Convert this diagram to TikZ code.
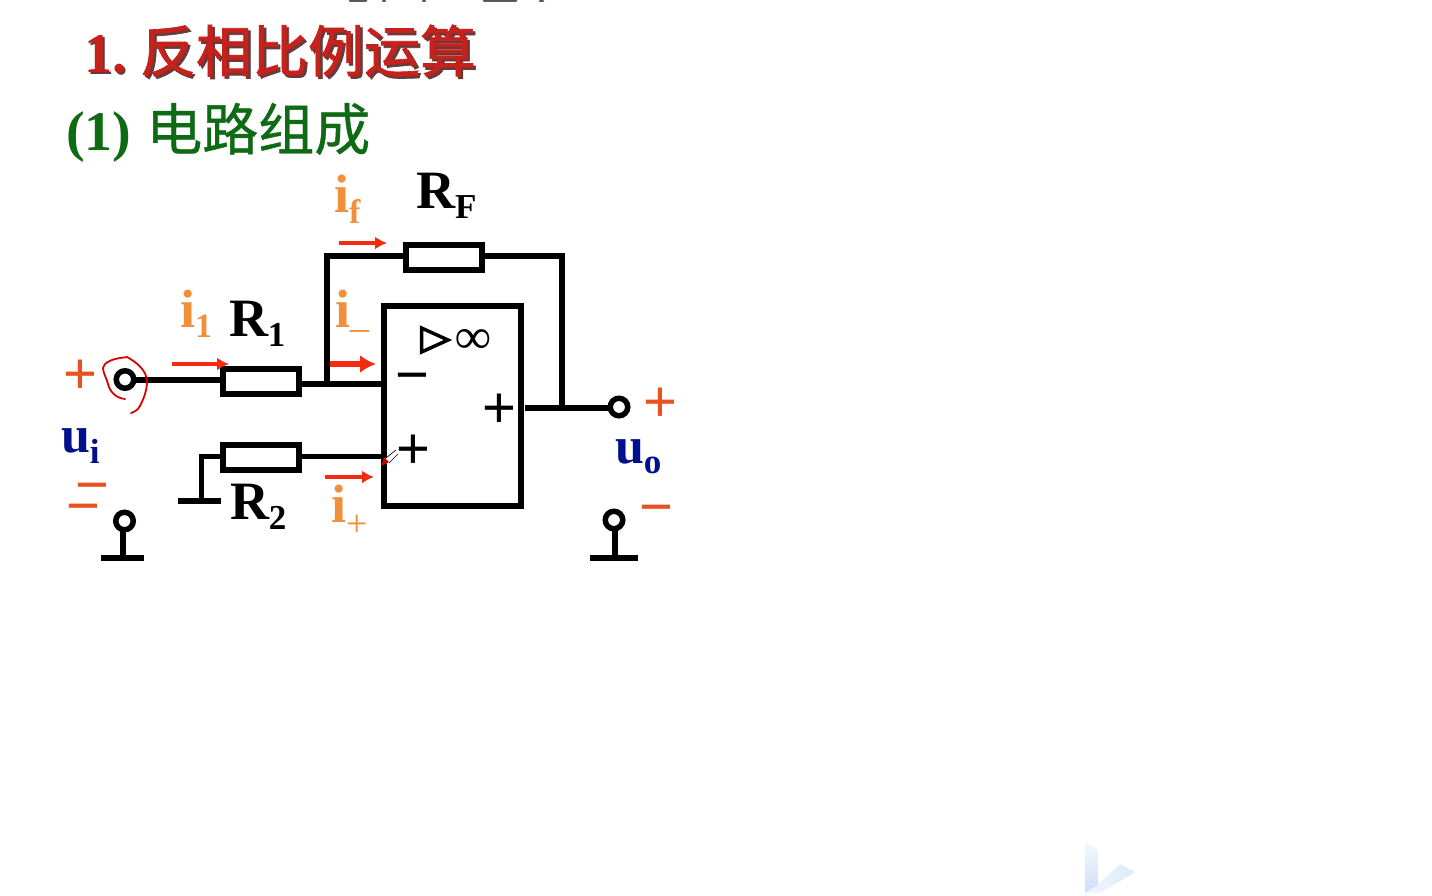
\documentclass[tikz,border=0pt]{standalone}
\usepackage{fontspec}
\setmainfont{Liberation Serif}
\newfontfamily\cjka[FakeBold=1.2]{Noto Sans CJK SC}
\newfontfamily\cjkb[FakeBold=0.7]{Noto Sans CJK SC}
\newfontfamily\sgn{Liberation Sans}
\usetikzlibrary{arrows.meta}
\definecolor{titlered}{HTML}{C8201A}
\definecolor{shadowc}{HTML}{6A3A3A}
\definecolor{headgreen}{HTML}{0F6A14}
\definecolor{curorange}{HTML}{F0903A}
\definecolor{signorange}{HTML}{E8521E}
\definecolor{arrowred}{HTML}{F52A10}
\definecolor{navyu}{HTML}{00108C}
\definecolor{wmblue}{HTML}{BBD4F5}
\newcommand{\fz}[1]{\fontsize{#1}{#1}\selectfont}
\newcommand{\shadowed}[1]{\rlap{\kern2.5pt\raisebox{-2.5pt}{\color{shadowc}#1}}{\color{titlered}#1}}
\newcommand{\lab}[2]{\bfseries\fz{54}#1\raisebox{-10pt}{\fz{35}#2}}
\newcommand{\cur}[3]{\bfseries\fz{54}#1\raisebox{#3}{\fz{34}#2}}
\tikzset{
 x=1pt,y=-1pt,
 wire/.style={draw=black,line width=6pt,line cap=butt,line join=miter},
 thinw/.style={draw=black,line width=5pt,line join=miter},
 res/.style={draw=black,line width=6pt,fill=white,minimum width=76pt,minimum height=25pt,inner sep=0pt,outer sep=0pt},
 opamp/.style={draw=black,line width=6pt,fill=white,minimum width=137pt,minimum height=200pt,inner sep=0pt,outer sep=0pt},
 term/.style={circle,draw=black,line width=5.5pt,fill=white,minimum size=17.5pt,inner sep=0pt,outer sep=0pt},
 curarrow/.style={draw=arrowred,line width=4pt,-{Latex[length=12pt,width=13pt]}},
 curarrowbig/.style={draw=arrowred,line width=5.5pt,-{Latex[length=16pt,width=18pt]}},
 tx/.style={inner sep=0pt,outer sep=0pt,anchor=base west},
 sign/.style={inner sep=0pt,outer sep=0pt,anchor=center,font=\sgn\fz{58}},
}
\begin{document}
\begin{tikzpicture}
\useasboundingbox (0,0) rectangle (1432,895);
\fill[white] (0,0) rectangle (1432,895);
% clipped remains of a line above the picture
\draw[draw=black!65,line width=2.5pt,line cap=round] (350,0.5) -- (366,0.5) (383,1) -- (385,1) (423,1) -- (425,1) (484,0.5) -- (516,0.5) (540,1) -- (543,1);
% headings
\node[tx,font=\bfseries\fz{56}] (title) at (84,72) {\shadowed{1.}\hspace{14pt}{\cjka\mdseries\shadowed{反相比例运算}}};
\node[tx,font=\bfseries\fz{56},text=headgreen] (head) at (66,150) {(1)\hspace{15pt}{\cjkb\mdseries 电路组成}};
% op-amp and resistors
\node[opamp] (op) at (452.5,406) {};
\node[res] (r1) at (261,381.5) {};
\node[res] (r2) at (261,457.5) {};
\node[res] (rf) at (444,257) {};
% named junctions
\coordinate (j1) at (327,384);
\coordinate (j1t) at (327,256);
\coordinate (j2) at (562,408);
\coordinate (j2t) at (562,256);
\coordinate (opo) at (525,408);
\coordinate (r2c) at (201,456);
\coordinate (r2g) at (201,501);
\coordinate (g1) at (178,501);
\coordinate (g2) at (221,501);
\coordinate (gl) at (123,558);
\coordinate (gla) at (101,558);
\coordinate (glb) at (144,558);
\coordinate (gr) at (615,558);
\coordinate (gra) at (590,558);
\coordinate (grb) at (638,558);
\coordinate (opm) at (382,384);
\coordinate (opp) at (382,456);
% wires
\draw[wire] (125,380) coordinate (tinc) -- (tinc -| r1.west);
\draw[wire] (r1.east |- j1) -- (opm);
\draw[wire] (j1) -- (j1t) -- (rf.west |- j1t);
\draw[wire] (rf.east |- j2t) -- (j2t) -- (j2);
\draw[wire] (opo) -- (j2) -- (619,408) coordinate (toutc);
\draw[thinw] (r2.east |- opp) -- (opp);
\draw[thinw] (r2.west |- r2c) -- (r2c) -- (r2g);
\draw[wire] (g1) -- (g2);
\draw[wire] (123,521) coordinate (ginc) -- (gl);
\draw[wire] (gla) -- (glb);
\draw[wire] (615,521) coordinate (goutc) -- (gr);
\draw[wire] (gra) -- (grb);
% terminals
\node[term] (tin) at (125,379.5) {};
\node[term] (tout) at (619,407) {};
\node[term] (gin) at (124.5,521) {};
\node[term] (gout) at (614,520) {};
% current arrows
\coordinate (a1s) at (172,364); \coordinate (a1e) at (229,364);
\coordinate (a2s) at (330,364); \coordinate (a2e) at (376,364);
\coordinate (a3s) at (325,477); \coordinate (a3e) at (374,477);
\coordinate (a4s) at (339,243); \coordinate (a4e) at (387,243);
\draw[curarrow] (a1s) -- (a1e);
\draw[curarrowbig] (a2s) -- (a2e);
\draw[curarrow] (a3s) -- (a3e);
\draw[curarrow] (a4s) -- (a4e);
% labels
\node[tx] (lr1) at (229,336) {\lab{R}{1}};
\node[tx] (lr2) at (230,519) {\lab{R}{2}};
\node[tx] (lrf) at (416,208) {\lab{R}{F}};
\node[tx,text=curorange] (li1) at (180,327) {\cur{i}{1}{-10pt}};
\node[tx,text=curorange] (lim) at (335,327) {\cur{i}{\fz{38}\mdseries\_}{0pt}};
\node[tx,text=curorange] (lip) at (331,522) {\cur{i}{\fz{38}\mdseries +}{-14pt}};
\node[tx,text=curorange] (lif) at (334,212) {\cur{i}{f}{-11pt}};
\node[tx,text=navyu,font=\bfseries\fz{52}] (lui) at (61,452) {u\raisebox{-11pt}{\fz{35}i}};
\node[tx,text=navyu,font=\bfseries\fz{52}] (luo) at (615,463) {u\raisebox{-10pt}{\fz{35}o}};
% signs
\node[sign,text=signorange] (s1) at (80,377) {+};
\node[sign,text=signorange] (s2) at (92,494) {−};
\node[sign,text=signorange] (s3) at (83,515) {−};
\node[sign,text=signorange] (s4) at (660,405) {+};
\node[sign,text=signorange] (s5) at (656,516) {−};
\node[sign] (s6) at (412,384) {−};
\node[sign] (s7) at (413,452) {+};
\node[sign] (s8) at (499,411) {+};
% op-amp symbol
\draw[draw=black,line width=3.5pt,line join=miter] (421.5,328) -- (421.5,352) -- (448,340) -- cycle;
\node[inner sep=0pt,outer sep=0pt,font=\bfseries\fz{50}] (inf) at (473,341) {∞};
% handwritten annotation
\draw[draw=red!85!black,line width=1.8pt,line cap=round] (125,399) .. controls (116,398) and (110,392) .. (108,384) .. controls (106,376) and (100,368) .. (105,364) .. controls (112,358) and (122,358) .. (127,357) .. controls (136,362) and (147,370) .. (147,382) .. controls (147,392) and (142,402) .. (140,406) .. controls (138,410) and (134,412) .. (131,413);
% cursor
\fill[white] (384,460) -- (394,450) -- (398,454) -- (388,465) -- cycle;
\draw[black,line width=.6pt] (386,458) -- (396,450) (389,463) -- (398,454);
\fill[red!75!black] (381,466) -- (384,457) -- (389,462) -- cycle;
% watermark
\shade[top color=wmblue!15!white,bottom color=wmblue!75!white] (1085,842) -- (1098,850) -- (1098,885) -- (1085,893) -- cycle;
\shade[left color=wmblue!20!white,right color=wmblue!50!white] (1098,885) -- (1120,864) -- (1135,872) -- (1100,893) -- (1086,893) -- cycle;
\end{tikzpicture}
\end{document}
